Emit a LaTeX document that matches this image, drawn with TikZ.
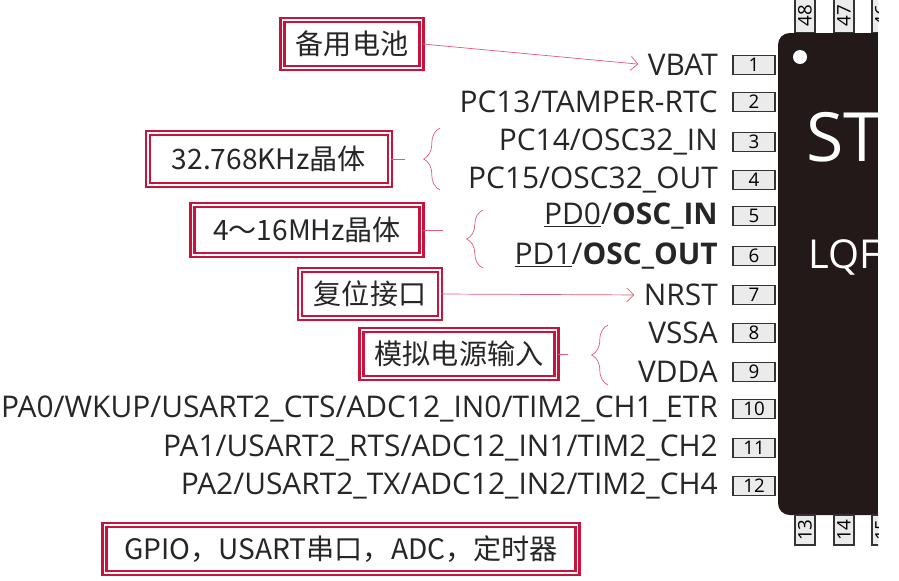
\documentclass[tikz,border=0pt]{standalone}
\usepackage{fontspec}
\setmainfont{Open Sans}
\newfontfamily\cjk{Noto Sans CJK SC}
\usetikzlibrary{decorations.pathreplacing,arrows.meta}
\definecolor{crim}{RGB}{200,20,60}
\definecolor{pinkl}{RGB}{225,90,120}
\definecolor{chipc}{RGB}{35,25,25}
\begin{document}
\begin{tikzpicture}[x=0.03cm,y=-0.03cm,
  lbl/.style={draw=crim,line width=2.2pt,double=white,double distance=1.2pt,fill=white,inner sep=0pt,font=\cjk\fontsize{24}{24}\selectfont,text=black!85},
  pinlbl/.style={anchor=east,font=\fontsize{25.5}{24}\selectfont,text=black!85,inner sep=0pt},
  pinbox/.style={draw=black!80,fill=black!8,line width=0.9pt,minimum width=42*0.03cm,minimum height=19*0.03cm,inner sep=0pt,font=\fontsize{16}{16}\selectfont},
  conn/.style={draw=pinkl,line width=0.6pt},
  brc/.style={conn,decorate,decoration={brace,amplitude=14pt,mirror}}]
\useasboundingbox (0,0) rectangle (899,580);
% chip
\fill[chipc,rounded corners=10pt] (778,33) rectangle (900,515);
\fill[white] (878,0) rectangle (899,580);
\fill[white] (800,57) circle (7);
\begin{scope}
\clip (0,0) rectangle (878,580);
\node[text=white,anchor=west,font=\fontsize{58}{58}\selectfont,inner sep=0pt] (st) at (806,137) {ST};
\node[text=white,anchor=west,font=\fontsize{34}{34}\selectfont,inner sep=0pt] (lq) at (808,257) {LQF};
\foreach \x/\n in {805/48,844/47,882/46}{
  \node[pinbox,rotate=90,minimum width=33*0.03cm,minimum height=20*0.03cm] (t\n) at (\x,16) {\n};}
\foreach \x/\n in {805/13,844/14,882/15}{
  \node[pinbox,rotate=90,minimum width=30*0.03cm,minimum height=20*0.03cm] (b\n) at (\x,530) {\n};}
\end{scope}
% pins
\foreach \n/\y in {1/65,2/102,3/142,4/180,5/216,6/256,7/295,8/333,9/372,10/409,11/448,12/486}{
  \node[pinbox] (p\n) at (754,\y) {\n};}
\node[pinlbl] (l1) at (718,65) {VBAT};
\node[pinlbl] (l2) at (718,102) {PC13/TAMPER-RTC};
\node[pinlbl] (l3) at (718,142) {PC14/OSC32\_IN};
\node[pinlbl] (l4) at (718,180) {PC15/OSC32\_OUT};
\node[pinlbl] (l5) at (718,216) {\underline{PD0}/\textbf{OSC\_IN}};
\node[pinlbl] (l6) at (718,256) {\underline{PD1}/\textbf{OSC\_OUT}};
\node[pinlbl] (l7) at (718,295) {NRST};
\node[pinlbl] (l8) at (718,333) {VSSA};
\node[pinlbl] (l9) at (718,372) {VDDA};
\node[pinlbl] (l10) at (718,409) {PA0/WKUP/USART2\_CTS/ADC12\_IN0/TIM2\_CH1\_ETR};
\node[pinlbl] (l11) at (718,448) {PA1/USART2\_RTS/ADC12\_IN1/TIM2\_CH2};
\node[pinlbl] (l12) at (718,486) {PA2/USART2\_TX/ADC12\_IN2/TIM2\_CH4};
% labels
\node[lbl,minimum width=139*0.03cm,minimum height=48*0.03cm] (a) at (352,44) {备用电池};
\node[lbl,minimum width=242*0.03cm,minimum height=52*0.03cm] (b) at (269,159) {32.768KHz晶体};
\node[lbl,minimum width=229*0.03cm,minimum height=50*0.03cm] (c) at (307,230) {4～16MHz晶体};
\node[lbl,minimum width=140*0.03cm,minimum height=48*0.03cm] (d) at (370,294) {复位接口};
\node[lbl,minimum width=195*0.03cm,minimum height=48*0.03cm] (e) at (459,354) {模拟电源输入};
\node[lbl,minimum width=473*0.03cm,minimum height=48*0.03cm] (f) at (341,549) {GPIO，USART串口，ADC，定时器};
% connectors
\draw[conn,-{Straight Barb[length=6pt]},shorten >=8pt] (a.east) -- (l1.west);
\draw[conn,-{Straight Barb[length=6pt]},shorten >=8pt] (d.east) -- (l7.west);
\coordinate (b1) at (440,128); \coordinate (b2) at (440,190);
\draw[brc] (b1) -- (b2);
\draw[conn] (b.east) -- ++(14,0);
\coordinate (c1) at (483,210); \coordinate (c2) at (483,268);
\draw[brc] (c1) -- (c2);
\draw[conn] (c.east) -- ++(20,0);
\coordinate (e1) at (608,325); \coordinate (e2) at (608,385);
\draw[brc] (e1) -- (e2);
\draw[conn] (e.east) -- ++(10,0);
\end{tikzpicture}
\end{document}
